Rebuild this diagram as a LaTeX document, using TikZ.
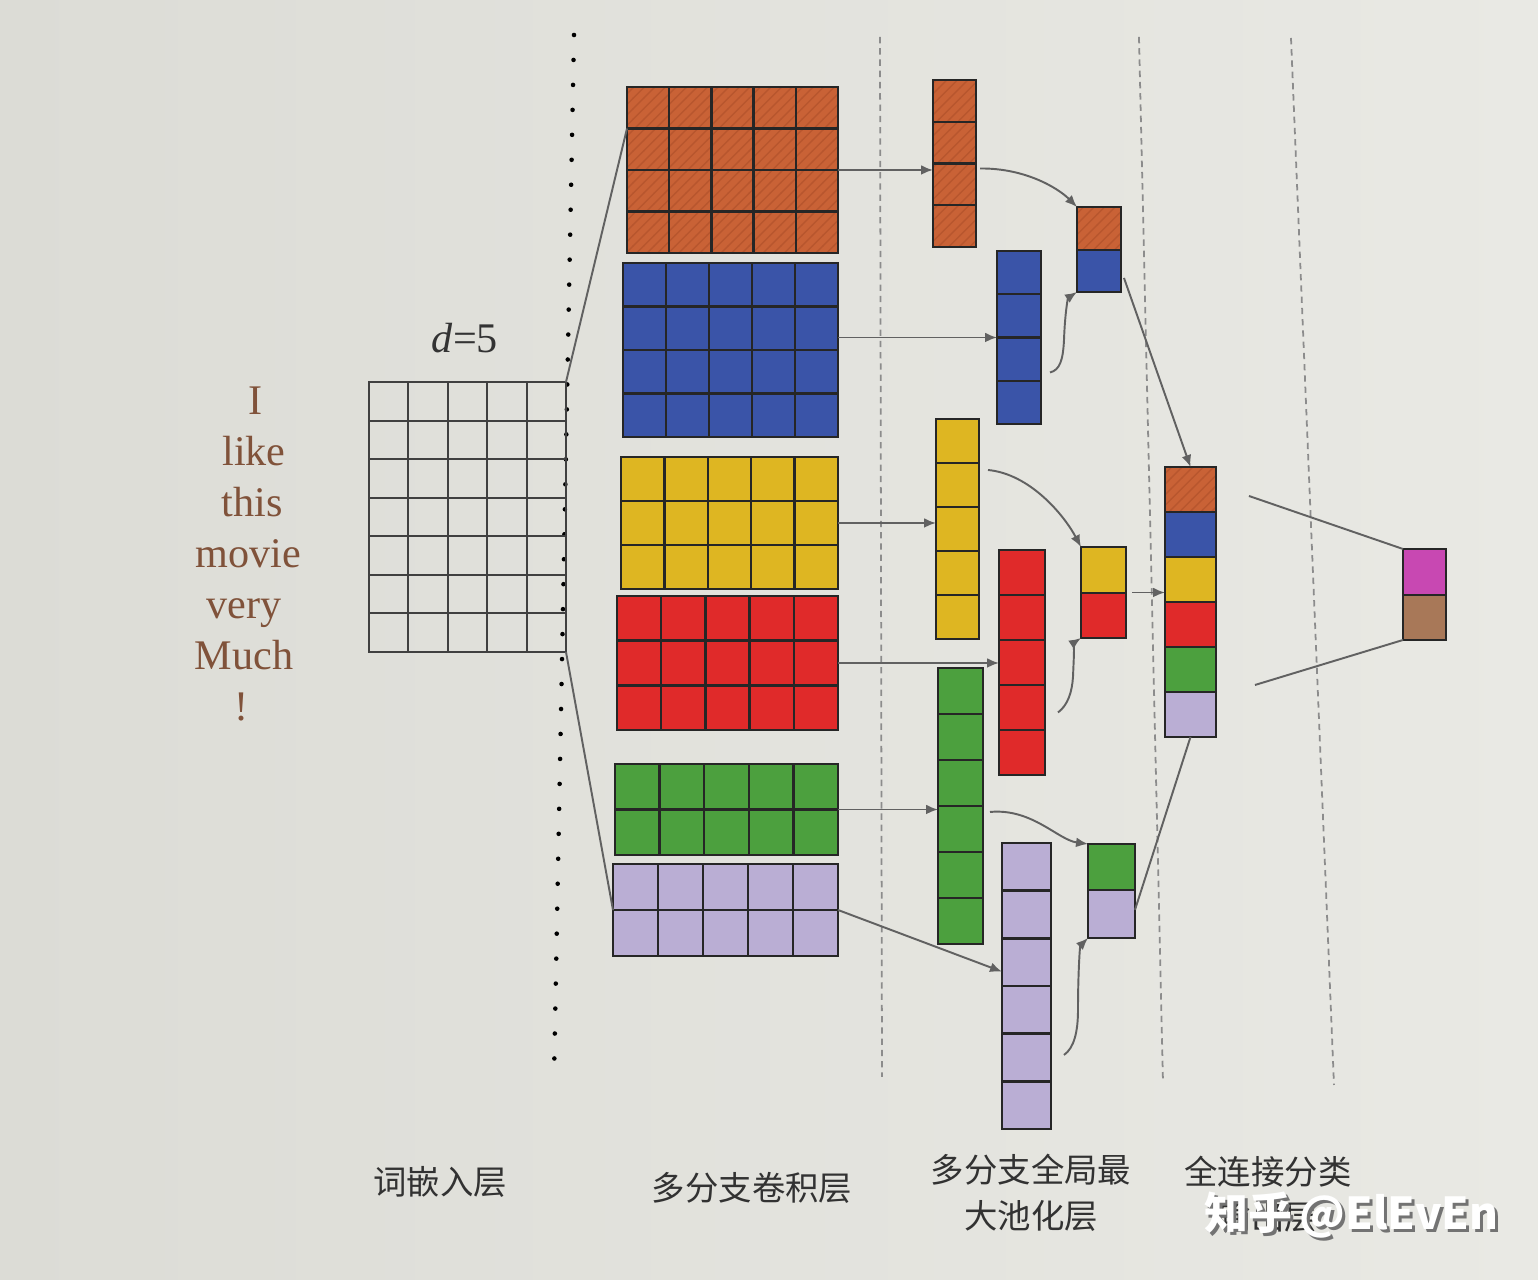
\documentclass[tikz,border=0pt]{standalone}
\usepackage{fontspec}
\setmainfont{Liberation Serif}
\newfontfamily\cjk{Noto Sans CJK SC}
\usetikzlibrary{fit,calc,arrows.meta,patterns}

\definecolor{bgL}{RGB}{220,220,214}
\definecolor{bgR}{RGB}{233,233,228}
\definecolor{orangeC}{RGB}{201,98,54}
\definecolor{hatchC}{RGB}{184,86,46}
\definecolor{blueC}{RGB}{58,84,168}
\definecolor{yellowC}{RGB}{222,182,34}
\definecolor{redC}{RGB}{224,42,42}
\definecolor{greenC}{RGB}{76,160,62}
\definecolor{purpleC}{RGB}{186,174,212}
\definecolor{magentaC}{RGB}{200,72,178}
\definecolor{brownC}{RGB}{168,120,88}
\definecolor{textbrown}{RGB}{128,82,58}
\definecolor{labgray}{RGB}{50,50,50}

\tikzset{
  blk/.style={draw=black!85, line width=0.7pt, inner sep=0pt, outer sep=0pt},
  cellline/.style={draw=black!85, line width=0.7pt},
  hatch/.style={postaction={pattern=north east lines, pattern color=hatchC}},
  conn/.style={draw=black!62, line width=0.55pt},
  arr/.style={conn, -{Latex[length=3.4pt,width=2.8pt]}},
  word/.style={anchor=base, text=textbrown, font=\fontsize{12}{14}\selectfont},
  lab/.style={text=labgray, font=\cjk\fontsize{9.5}{11}\selectfont},
  wmstyle/.style={anchor=west, inner sep=0pt, font=\cjk\bfseries\fontsize{12.5}{14}\selectfont},
  dotline/.style={draw=black, line width=1.3pt, line cap=round, dash pattern=on 0pt off 7.1pt},
  dashline/.style={draw=black!45, line width=0.5pt, dash pattern=on 1.8pt off 1.4pt},
}

% name, x0, y0, x1, y1, cols, rows, fill
\newcommand\cellblock[8]{%
  \node[blk, fill=#8, fit={(#2,#3) (#4,#5)}] (#1) {};
  \ifnum#6>1
    \foreach \k in {2,...,#6} \draw[cellline] ({#2+(\k-1)*(#4-#2)/#6},#3) -- ({#2+(\k-1)*(#4-#2)/#6},#5);
  \fi
  \ifnum#7>1
    \foreach \k in {2,...,#7} \draw[cellline] (#2,{#3+(\k-1)*(#5-#3)/#7}) -- (#4,{#3+(\k-1)*(#5-#3)/#7});
  \fi
}
\newcommand\cellnode[6]{\node[blk, fill=#6, fit={(#2,#3) (#4,#5)}] (#1) {};}

\begin{document}
\begin{tikzpicture}[x=0.01cm, y=-0.01cm]
\useasboundingbox (0,0) rectangle (1538,1280);
\shade[left color=bgL, right color=bgR] (0,0) rectangle (1538,1280);

% separators
\draw[dotline] (574,35) -- (554,1077);
\draw[dashline] (880,37) -- (882,1077);
\draw[dashline] (1139,37) -- (1163,1082);
\draw[dashline] (1291,38) -- (1334,1085);

% sentence
\node[word] (w1) at (256,415) {I};
\node[word] (w2) at (254,466) {like};
\node[word] (w3) at (252,517) {this};
\node[word] (w4) at (248,568) {movie};
\node[word] (w5) at (244,619) {very};
\node[word] (w6) at (244,670) {Much};
\node[word] (w7) at (242,721) {!};
\node[anchor=base, text=black!80, font=\fontsize{12}{14}\selectfont] (dlab) at (465,353) {\textit{d}=5};

% embedding matrix
\begin{scope}[blk/.style={draw=black!75, line width=0.55pt, inner sep=0pt, outer sep=0pt},
              cellline/.style={draw=black!75, line width=0.55pt}]
\cellblock{emb}{369}{382}{566}{652}{5}{7}{none}
\end{scope}

% convolution feature maps
\node[blk, fill=orangeC, hatch, fit={(627,87) (838,253)}] (oconvfill) {};
\cellblock{oconv}{627}{87}{838}{253}{5}{4}{none}
\cellblock{bconv}{623}{263}{838}{437}{5}{4}{blueC}
\cellblock{yconv}{621}{457}{838}{589}{5}{3}{yellowC}
\cellblock{rconv}{617}{596}{838}{730}{5}{3}{redC}
\cellblock{gconv}{615}{764}{838}{855}{5}{2}{greenC}
\cellblock{pconv}{613}{864}{838}{956}{5}{2}{purpleC}

% pooled vectors
\node[blk, fill=orangeC, hatch, fit={(933,80) (976,247)}] (ovecfill) {};
\cellblock{ovec}{933}{80}{976}{247}{1}{4}{none}
\cellblock{bvec}{997}{251}{1041}{424}{1}{4}{blueC}
\cellblock{yvec}{936}{419}{979}{639}{1}{5}{yellowC}
\cellblock{rvec}{999}{550}{1045}{775}{1}{5}{redC}
\cellblock{gvec}{938}{668}{983}{944}{1}{6}{greenC}
\cellblock{pvec}{1002}{843}{1051}{1129}{1}{6}{purpleC}

% max pooled pairs
\node[blk, fill=orangeC, hatch, fit={(1077,207) (1121,250)}] (p1a) {};
\cellnode{p1b}{1077}{250}{1121}{292}{blueC}
\node[blk, fit={(1077,207) (1121,292)}] (p1) {};
\cellnode{p2a}{1081}{547}{1126}{593}{yellowC}
\cellnode{p2b}{1081}{593}{1126}{638}{redC}
\node[blk, fit={(1081,547) (1126,638)}] (p2) {};
\cellnode{p3a}{1088}{844}{1135}{890}{greenC}
\cellnode{p3b}{1088}{890}{1135}{938}{purpleC}
\node[blk, fit={(1088,844) (1135,938)}] (p3) {};

% concatenated vector
\node[blk, fill=orangeC, hatch, fit={(1165,467) (1216,512)}] (c1) {};
\cellnode{c2}{1165}{512}{1216}{557}{blueC}
\cellnode{c3}{1165}{557}{1216}{602}{yellowC}
\cellnode{c4}{1165}{602}{1216}{647}{redC}
\cellnode{c5}{1165}{647}{1216}{692}{greenC}
\cellnode{c6}{1165}{692}{1216}{737}{purpleC}
\node[blk, fit={(1165,467) (1216,737)}] (cc) {};

% output
\cellnode{o1}{1403}{549}{1446}{595}{magentaC}
\cellnode{o2}{1403}{595}{1446}{640}{brownC}
\node[blk, fit={(1403,549) (1446,640)}] (out) {};

% embedding to convolutions
\draw[conn] (emb.north east) -- ($(oconv.north west)!0.25!(oconv.south west)$);
\draw[conn] (emb.south east) -- (pconv.west);

% convolutions to pooled vectors
\draw[arr] (oconv.east) -- (oconv.east -| ovec.west);
\draw[arr] (bconv.east |- bvec.west) -- (bvec.west);
\draw[arr] (yconv.east) -- (yconv.east -| yvec.west);
\draw[arr] (rconv.east) -- (rconv.east -| rvec.west);
\draw[arr] (gconv.east) -- (gconv.east -| gvec.west);
\draw[arr] (pconv.east) -- ($(pvec.north west)!0.45!(pvec.south west)$);

% pooled vectors to pairs
\draw[arr] ($(ovec.east)+(4,5)$) .. controls (1025,168) and (1058,188) .. (p1.north west);
\draw[arr] ($(bvec.east)+(9,35)$) .. controls (1060,370) and (1063,360) .. (1064,340)
           .. controls (1065,312) and (1068,298) .. (p1.south west);
\draw[arr] ($(yvec.east)+(9,-59)$) .. controls (1030,474) and (1064,515) .. (p2.north west);
\draw[arr] ($(rvec.east)+(13,50)$) .. controls (1068,705) and (1072,692) .. (1073,677)
           .. controls (1074,652) and (1075,642) .. (p2.south west);
\draw[arr] ($(gvec.east)+(7,6)$) .. controls (1032,808) and (1058,840) .. (p3.north west);
\draw[arr] ($(pvec.east)+(13,69)$) .. controls (1074,1048) and (1078,1032) .. (1078,1010)
           .. controls (1078,972) and (1080,946) .. (p3.south west);

% pairs to concatenation
\draw[arr] ($(p1.south east)+(3,-14)$) -- (cc.north);
\draw[arr, shorten <=1.8pt] (p2.east) -- (p2.east -| cc.west);
\draw[conn] ($(p3.south east)!0.3!(p3.north east)$) -- (cc.south);

% fully connected
\coordinate (fl1) at (1249,496);
\coordinate (fl2) at (1255,685);
\draw[conn] (fl1) -- (out.north west);
\draw[conn] (fl2) -- (out.south west);

% labels
\node[lab] (l1) at (440,1182) {词嵌入层};
\node[lab] (l2) at (752,1188) {多分支卷积层};
\node[lab] (l3a) at (1031,1170) {多分支全局最};
\node[lab] (l3b) at (1031,1216) {大池化层};
\node[lab] (l4a) at (1268,1172) {全连接分类};
\node[lab] (l4b) at (1268,1217) {输出层};

% watermark
\node[wmstyle, text=black!55] (wmshadow) at (1207,1218) {知乎\,@ElEvEn};
\node[wmstyle, text=white] (wm) at (1204,1215) {知乎\,@ElEvEn};
\end{tikzpicture}
\end{document}
